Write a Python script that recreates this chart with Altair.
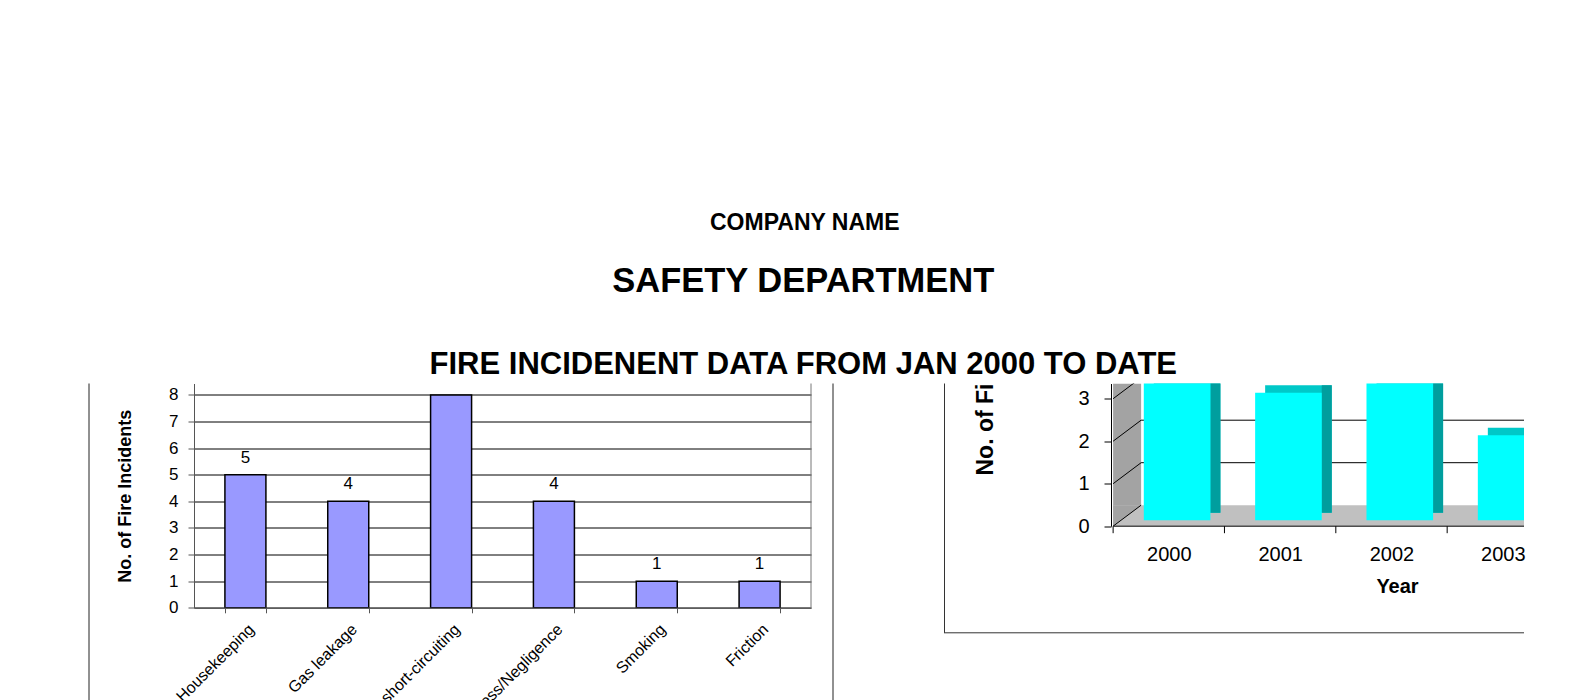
import altair as alt
import pandas as pd

FONT = "Liberation Sans"

# ---------------- data ----------------
HEADING = ["COMPANY NAME", "SAFETY DEPARTMENT", "FIRE INCIDENENT DATA FROM JAN 2000 TO DATE"]

CAUSES = ["Housekeeping", "Gas leakage", "Electric short-circuiting",
          "Carelessness/Negligence", "Smoking", "Friction"]
CAUSE_COUNTS = [5, 4, 8, 4, 1, 1]
LEFT_TICKS = [0, 1, 2, 3, 4, 5, 6, 7, 8]

YEARS = [2000, 2001, 2002, 2003]
YEAR_COUNTS = [5, 3, 6, 2]
RIGHT_TICKS = [0, 1, 2, 3]

Y_TITLE = "No. of Fire Incidents"
X_TITLE_RIGHT = "Year"

# ---------------- left chart ----------------
LW, LH = 617, 224.3
left_df = pd.DataFrame({"cause": CAUSES, "n": CAUSE_COUNTS})
one = pd.DataFrame({"k": [0]})

xL = alt.X("cause:N", sort=CAUSES,
           scale=alt.Scale(paddingInner=0.6, paddingOuter=0.3),
           axis=alt.Axis(title=None, labelAngle=-45, labelFontSize=16, labelPadding=8,
                         labelLimit=500, tickBand="extent", tickSize=5, tickColor="#555",
                         domainColor="#555", labelColor="black"))
yL = alt.Y("n:Q", scale=alt.Scale(domain=[0, 8.43], nice=False),
           axis=alt.Axis(values=LEFT_TICKS, title=Y_TITLE, titleFontSize=18,
                         titleFontWeight="bold", titlePadding=34, labelFontSize=17,
                         tickSize=6, labelPadding=10, grid=True, gridColor="black",
                         gridWidth=1, domainColor="#555", tickColor="#555",
                         labelColor="black", titleColor="black"))

left_bars = alt.Chart(left_df).mark_bar(
    color="#9999FF", stroke="black", strokeWidth=1.5, size=41, clip=True
).encode(x=xL, y=yL)
left_labels = alt.Chart(left_df).mark_text(
    fontSize=17, dy=-12, baseline="alphabetic", clip=True, color="black", font=FONT
).encode(x=xL, y=yL, text="n:Q")
left_edge = alt.Chart(one).mark_rule(color="#777").encode(
    x=alt.value(LW), y=alt.value(0), y2=alt.value(LH))
left_frame_a = alt.Chart(one).mark_rule(color="#222").encode(
    x=alt.value(-105), y=alt.value(0), y2=alt.value(317))
left_frame_b = alt.Chart(one).mark_rule(color="#222").encode(
    x=alt.value(639), y=alt.value(0), y2=alt.value(317))

left = alt.layer(left_bars, left_labels, left_edge, left_frame_a, left_frame_b).properties(
    width=LW, height=LH)

# ---------------- right chart (pseudo 3-D) ----------------
RW, RH = 580, 142.7
PX_PER_YEAR = 113.3
PX_PER_UNIT = 42.5
AXIS_PX = 167
DX, DY = 28, 21
x0 = YEARS[0] - 0.5
xdom = [x0 - AXIS_PX / PX_PER_YEAR, x0 + (RW - AXIS_PX) / PX_PER_YEAR]
ydom = [0, RH / PX_PER_UNIT]

right_df = pd.DataFrame({"year": YEARS, "n": YEAR_COUNTS})
origin_df = pd.DataFrame({"year": [x0], "n": [0]})
diag_df = pd.DataFrame({"year": [x0] * len(RIGHT_TICKS), "n": RIGHT_TICKS})
grid_vals = [v for v in RIGHT_TICKS[1:] if v * PX_PER_UNIT + DY < RH - 2]
grid_df = pd.DataFrame({"year": [x0] * len(grid_vals), "n": grid_vals})
bound_df = pd.DataFrame({"year": [y - 0.5 for y in YEARS], "n": [0] * len(YEARS)})

xR = alt.X("year:Q", scale=alt.Scale(domain=xdom, nice=False, zero=False),
           axis=alt.Axis(values=YEARS, format="d", title=X_TITLE_RIGHT, titleX=453,
                         titleFontSize=20, titleFontWeight="bold", titlePadding=12,
                         labelFontSize=20, domain=False, ticks=False, tickSize=0,
                         labelPadding=18, grid=False, labelFlush=False,
                         labelColor="black", titleColor="black"))
yR = alt.Y("n:Q", scale=alt.Scale(domain=ydom, nice=False),
           axis=alt.Axis(values=RIGHT_TICKS, title=None, offset=-AXIS_PX, labelFontSize=20,
                         tickSize=7, labelPadding=15, grid=False, domainColor="black",
                         tickColor="black", labelColor="black"))

WALL = "#A3A3A3"
FLOOR = "#C0C0C0"

floor = alt.Chart(origin_df).mark_rect(color=FLOOR, y2Offset=-DY, clip=True).encode(
    x=xR, x2=alt.value(RW), y=yR, y2="n:Q")
wall = alt.Chart(origin_df).mark_rect(color=WALL, x2Offset=DX, yOffset=-DY, clip=True).encode(
    x=xR, x2="year:Q", y=yR, y2=alt.value(0))
wall_tri = alt.Chart(origin_df).mark_point(
    shape="M -1 -0.75 L 1 -0.75 L -1 0.75 Z", size=DX ** 2, filled=True,
    fill=WALL, opacity=1, strokeWidth=0, xOffset=DX / 2, yOffset=-DY / 2
).encode(x=xR, y=yR)
back_grid = alt.Chart(grid_df).mark_rule(color="black", xOffset=DX, yOffset=-DY, clip=True).encode(
    x=xR, x2=alt.value(RW), y=yR)
diag = alt.Chart(diag_df).mark_rule(color="black", x2Offset=DX, y2Offset=-DY, clip=True).encode(
    x=xR, x2="year:Q", y=yR, y2="n:Q")

BAR_W = 66.6
bar_back = alt.Chart(right_df).mark_bar(
    color="#00C8C8", size=BAR_W, xOffset=18.3, yOffset=-13.5, y2Offset=-13.5, clip=True
).encode(x=xR, y=yR, y2=alt.datum(0))
bar_side = alt.Chart(right_df).mark_bar(
    color="#009E9E", size=10, xOffset=8.3 + BAR_W / 2 + 5, yOffset=-13.5, y2Offset=-13.5, clip=True
).encode(x=xR, y=yR, y2=alt.datum(0))
bar_front = alt.Chart(right_df).mark_bar(
    color="#00FFFF", size=BAR_W, xOffset=8.3, yOffset=-6, y2Offset=-6, clip=True
).encode(x=xR, y=yR, y2=alt.datum(0))

x_line = alt.Chart(origin_df).mark_rule(color="black").encode(x=xR, x2=alt.value(RW), y=yR)
x_ticks = alt.Chart(bound_df).mark_rule(color="black", y2Offset=7).encode(x=xR, y=yR, y2="n:Q")

frame_l = alt.Chart(one).mark_rule(color="#333").encode(
    x=alt.value(0.5), y=alt.value(0), y2=alt.value(249.3))
frame_b = alt.Chart(one).mark_rule(color="#333").encode(
    x=alt.value(0), x2=alt.value(RW), y=alt.value(249.3))
y_title_r = alt.Chart(one).mark_text(
    angle=270, align="left", baseline="alphabetic", fontSize=23, fontWeight="bold",
    font=FONT, color="black", clip=True
).encode(x=alt.value(49), y=alt.value(92), text=alt.value(Y_TITLE))

right = alt.layer(
    floor, wall, wall_tri, back_grid, diag, bar_back, bar_side, bar_front,
    x_line, x_ticks, frame_l, frame_b, y_title_r
).properties(width=RW, height=RH)

# ---------------- composition ----------------
inner = alt.hconcat(left, right, spacing=133, bounds="flush").properties(
    title=alt.TitleParams(HEADING[2], fontSize=31, fontWeight="bold", anchor="middle",
                          offset=2.5, dx=-3.5, font=FONT, color="black"))
mid = alt.vconcat(inner).properties(
    title=alt.TitleParams(HEADING[1], fontSize=34.5, fontWeight="bold", anchor="middle",
                          offset=49, dx=-3.5, font=FONT, color="black"))
chart = alt.vconcat(mid).properties(
    title=alt.TitleParams(HEADING[0], fontSize=23, fontWeight="bold", anchor="middle",
                          offset=29, dx=-2, font=FONT, color="black"),
    padding={"left": 80, "top": 203.5, "right": 0, "bottom": 0},
    background="white",
).configure_view(strokeWidth=0, stroke="transparent").configure_axis(
    labelFont=FONT, titleFont=FONT
)

chart.save("out.html", embed_options={"renderer": "svg", "actions": False})
